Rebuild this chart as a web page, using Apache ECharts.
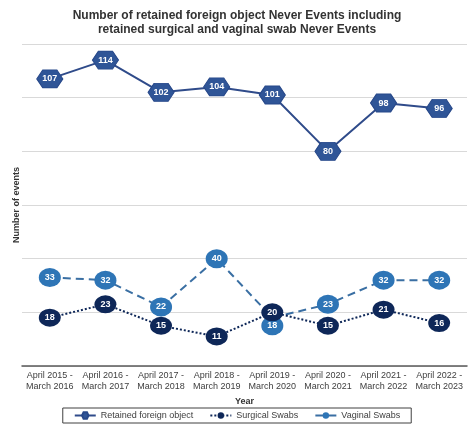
<!DOCTYPE html>
<html>
<head>
<meta charset="utf-8">
<script src="https://cdn.jsdelivr.net/npm/echarts@6/dist/echarts.min.js"></script>
<style>html,body{margin:0;padding:0;background:#fff}#c{width:474px;height:428px}</style>
</head>
<body>
<div id="c"></div>
<script>
var categories = ['April 2015 -\nMarch 2016','April 2016 -\nMarch 2017','April 2017 -\nMarch 2018','April 2018 -\nMarch 2019','April 2019 -\nMarch 2020','April 2020 -\nMarch 2021','April 2021 -\nMarch 2022','April 2022 -\nMarch 2023'];
var retained = [107,114,102,104,101,80,98,96];
var surgical = [18,23,15,11,20,15,21,16];
var vaginal = [33,32,22,40,18,23,32,32];

var hex = 'path://M0,9 L6,0 L20,0 L26,9 L20,18 L6,18 Z';
var font = 'Liberation Sans, Arial, sans-serif';
var chart = echarts.init(document.getElementById('c'));
var lbl = {show:true, position:'inside', color:'#fff', fontWeight:'bold', fontSize:9, fontFamily:font};
// the vaginal 2019-20 label sits just below the overlapping surgical one in the reference
var vaginalData = vaginal.map(function(v, i){
  return i === 4 ? {value:v, symbolOffset:[0,8]} : v;
});
chart.setOption({
  animation:false,
  textStyle:{fontFamily:font},
  title:{text:'Number of retained foreign object Never Events including\nretained surgical and vaginal swab Never Events', left:'center', top:4,
    textStyle:{fontSize:12, fontWeight:'bold', color:'#333333', lineHeight:14, fontFamily:font}},
  grid:{left:22, right:7, top:44, bottom:62},
  legend:{bottom:5, left:'center', data:['Retained foreign object','Surgical Swabs','Vaginal Swabs'],
    borderColor:'#404040', borderWidth:1, padding:[3,11], itemWidth:21, itemHeight:8, itemGap:16,
    textStyle:{fontSize:9, color:'#404040', fontFamily:font}},
  xAxis:{type:'category', data:categories, boundaryGap:true,
    axisLine:{lineStyle:{color:'#595959', width:1.5}}, axisTick:{show:false},
    axisLabel:{fontSize:9, color:'#404040', lineHeight:11, margin:4, interval:0, fontFamily:font},
    name:'Year', nameLocation:'middle', nameGap:29, nameTextStyle:{fontSize:9, fontWeight:'bold', color:'#333333', fontFamily:font}},
  yAxis:{type:'value', min:0, max:120, interval:20,
    axisLabel:{show:false}, axisLine:{show:false}, axisTick:{show:false},
    splitLine:{lineStyle:{color:'#d9d9d9', width:1}},
    name:'Number of events', nameLocation:'middle', nameGap:1, nameTextStyle:{fontSize:9, fontWeight:'bold', color:'#333333', fontFamily:font}},
  series:[
    {name:'Retained foreign object', type:'line', data:retained, symbol:hex, symbolSize:[26,18],
      itemStyle:{color:'#2F5597', borderColor:'#27488a', borderWidth:1}, lineStyle:{color:'#2F4B8A', width:2}, label:lbl, z:2},
    {name:'Vaginal Swabs', type:'line', data:vaginalData, symbol:'circle', symbolSize:[22,19],
      itemStyle:{color:'#2E75B6'}, lineStyle:{color:'#3A6FA3', width:2, type:[8,5]}, label:lbl, z:2},
    {name:'Surgical Swabs', type:'line', data:surgical, symbol:'circle', symbolSize:[22,18],
      itemStyle:{color:'#0E2758'}, lineStyle:{color:'#0E2758', width:2, type:[2,2]}, label:lbl, z:3}
  ]
});
</script>
</body>
</html>
